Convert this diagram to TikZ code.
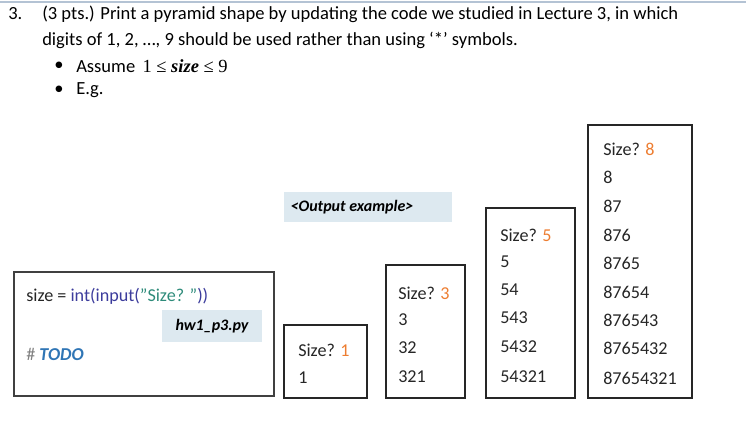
\documentclass[tikz,border=0pt]{standalone}
\usepackage{fontspec}
\setmainfont{Carlito}
\newfontfamily\serifrm{Liberation Serif}
\definecolor{orng}{HTML}{ED7D31}
\definecolor{kw}{HTML}{3C3C9C}
\definecolor{strc}{HTML}{2E8B7A}
\definecolor{todo}{HTML}{2F75B5}
\definecolor{pale}{HTML}{DDE9F0}
\definecolor{rule}{HTML}{B4C3D4}
\tikzset{
  txt/.style={anchor=west,inner sep=0pt,font=\fontsize{13.9}{16}\selectfont},
  otxt/.style={anchor=west,inner sep=0pt,font=\fontsize{13.6}{16}\selectfont,text=black!85},
  obox/.style={draw=black!85,line width=1.6pt},
}
\begin{document}
\begin{tikzpicture}[x=0.75pt,y=-0.75pt]
\useasboundingbox (0,0) rectangle (746,436);
\draw[rule,line width=0.8pt] (0,2) -- (746,2);
\node[txt] (n3) at (8,14) {3.};
\node[txt] (l1) at (42,14) {(3 pts.) Print a pyramid shape by updating the code we studied in Lecture 3, in which};
\node[txt] (l2) at (42,40) {digits of 1, 2, \dots, 9 should be used rather than using ‘*’ symbols.};
\node[txt] (b1) at (54,66) {\textbullet};
\node[txt] (a1) at (76,66) {Assume\, {\serifrm 1 ≤ \textbf{\textit{size}} ≤ 9}};
\node[txt] (b2) at (54,90) {\textbullet};
\node[txt] (a2) at (76,90) {E.g.};
% code box
\draw[black!75,line width=0.8pt] (14,272) rectangle (274,396);
\node[otxt] (c1) at (26,296) {size = {\color{kw}int(input(}{\color{strc}"Size? "}{\color{kw}))}};
\fill[pale] (162,310) rectangle (262,342);
\node[inner sep=0pt,font=\fontsize{12}{14}\selectfont\bfseries\itshape] (hw) at (212,326) {hw1\_p3.py};
\node[otxt] (td) at (26,354) {{\color{black!50}\#} {\color{todo}\bfseries\itshape TODO}};
% output example
\fill[pale] (284,192) rectangle (452,222);
\node[inner sep=0pt,font=\fontsize{12}{14}\selectfont\bfseries\itshape] (oe) at (352,207) {<Output example>};
% boxes
\draw[obox] (284,325) rectangle (367,398);
\node[otxt] (s1a) at (298,350) {Size? {\color{orng}1}};
\node[otxt] (s1b) at (298,378) {1};
\draw[obox] (386,265) rectangle (465,398);
\node[otxt] (s3a) at (398,293) {Size? {\color{orng}3}};
\node[otxt] (s3b) at (398,320) {3};
\node[otxt] (s3c) at (398,348) {32};
\node[otxt] (s3d) at (398,377) {321};
\draw[obox] (486,208) rectangle (575,398);
\node[otxt] (s5a) at (500,235) {Size? {\color{orng}5}};
\node[otxt] (s5b) at (500,262) {5};
\node[otxt] (s5c) at (500,290) {54};
\node[otxt] (s5d) at (500,318) {543};
\node[otxt] (s5e) at (500,347) {5432};
\node[otxt] (s5f) at (500,377) {54321};
\draw[obox] (588,125) rectangle (692,398);
\node[otxt] (s8a) at (603,149) {Size? {\color{orng}8}};
\node[otxt] (s8b) at (603,177) {8};
\node[otxt] (s8c) at (603,206) {87};
\node[otxt] (s8d) at (603,235) {876};
\node[otxt] (s8e) at (603,263) {8765};
\node[otxt] (s8f) at (603,292) {87654};
\node[otxt] (s8g) at (603,320) {876543};
\node[otxt] (s8h) at (603,348) {8765432};
\node[otxt] (s8i) at (603,378) {87654321};
\end{tikzpicture}
\end{document}
